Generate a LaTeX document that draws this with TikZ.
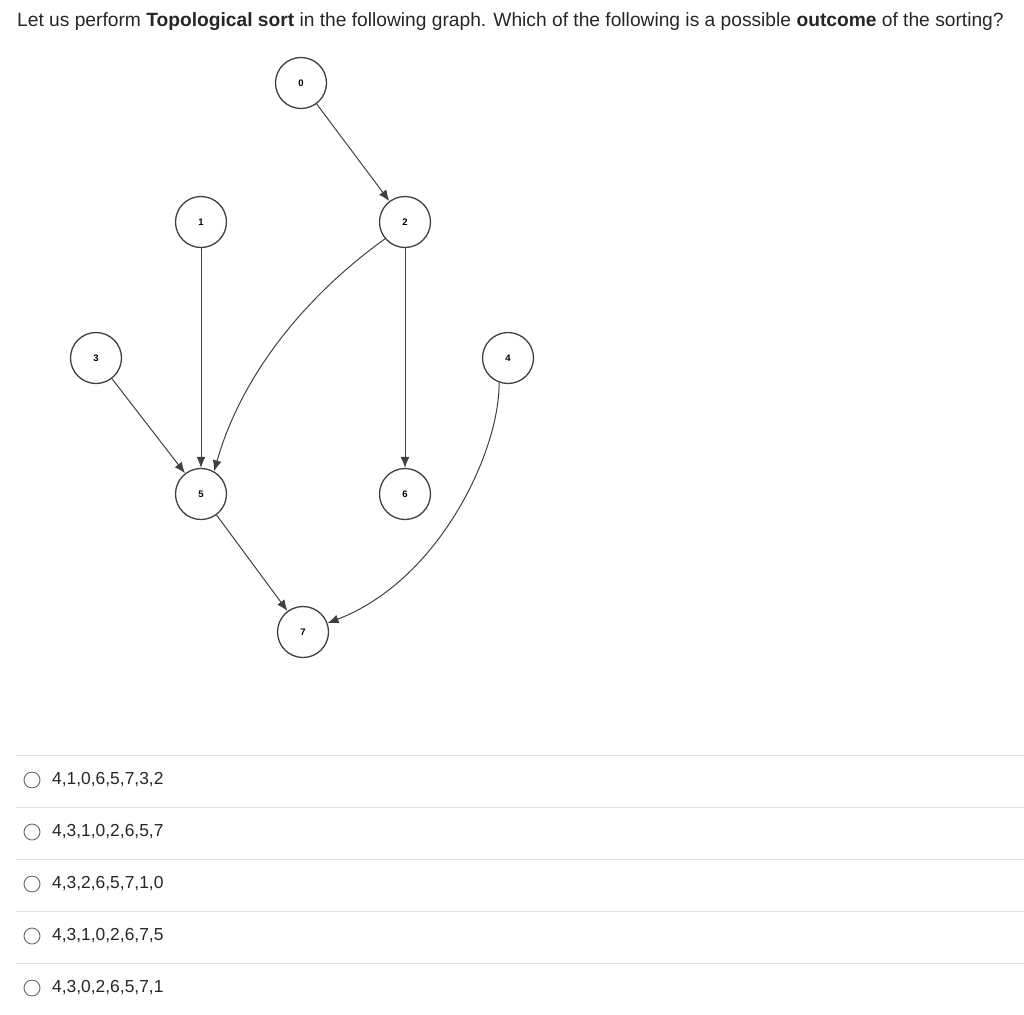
\documentclass[tikz,border=0pt]{standalone}
\usepackage{fontspec}
\setmainfont{Liberation Sans}
\usetikzlibrary{arrows.meta}
\begin{document}
\begin{tikzpicture}[x=1pt,y=-1pt,
  vtx/.style={circle,draw=black!75,line width=1.3pt,minimum size=51pt,inner sep=0pt,font=\fontsize{9.5}{10}\selectfont\bfseries},
  edge/.style={draw=black!75,line width=1pt,-{Latex[length=11pt,width=9pt]}},
  opt/.style={anchor=west,font=\fontsize{17.4}{20}\selectfont,text=black!85},
  rad/.style={circle,draw=black!60,line width=0.9pt,minimum size=16pt,inner sep=0pt},
  sep/.style={draw=black!12,line width=0.8pt}]
\useasboundingbox (0,0) rectangle (1024,1014);
\node[anchor=west,font=\fontsize{19.2}{22}\selectfont,text=black!85,inner sep=0pt] (title) at (17,22)
 {Let us perform \textbf{Topological sort} in the following graph. Which of the following is a possible \textbf{outcome} of the sorting?};
\node[vtx] (n0) at (301,83) {0};
\node[vtx] (n2) at (405,222) {2};
\node[vtx] (n1) at (201,222) {1};
\node[vtx] (n3) at (96,358) {3};
\node[vtx] (n4) at (508,358) {4};
\node[vtx] (n5) at (201,494) {5};
\node[vtx] (n6) at (405,494) {6};
\node[vtx] (n7) at (303,632) {7};
\draw[edge] (n0) -- (n2);
\draw[edge] (n1) -- (n5);
\draw[edge] (n3) -- (n5);
\draw[edge] (n2) -- (n6);
\draw[edge] (n5) -- (n7);
\draw[edge] (n2.220) .. controls (300,300) and (240,380) .. (n5.60);
\draw[edge] (n4.250) .. controls (500,450) and (440,580) .. (n7.20);
\foreach \i/\t/\y in {a/{4,1,0,6,5,7,3,2}/780,b/{4,3,1,0,2,6,5,7}/832,c/{4,3,2,6,5,7,1,0}/884,d/{4,3,1,0,2,6,7,5}/936,e/{4,3,0,2,6,5,7,1}/988}{
  \node[rad] (r\i) at (32,\y) {};
  \node[opt,inner sep=0pt] (o\i) at (52,\y) {\t};
}
\foreach \y [count=\k] in {755,807,859,911,963}{
  \coordinate (sl\k) at (16,\y); \coordinate (sr\k) at (1024,\y);
  \draw[sep] (sl\k) -- (sr\k);
}
\end{tikzpicture}
\end{document}
